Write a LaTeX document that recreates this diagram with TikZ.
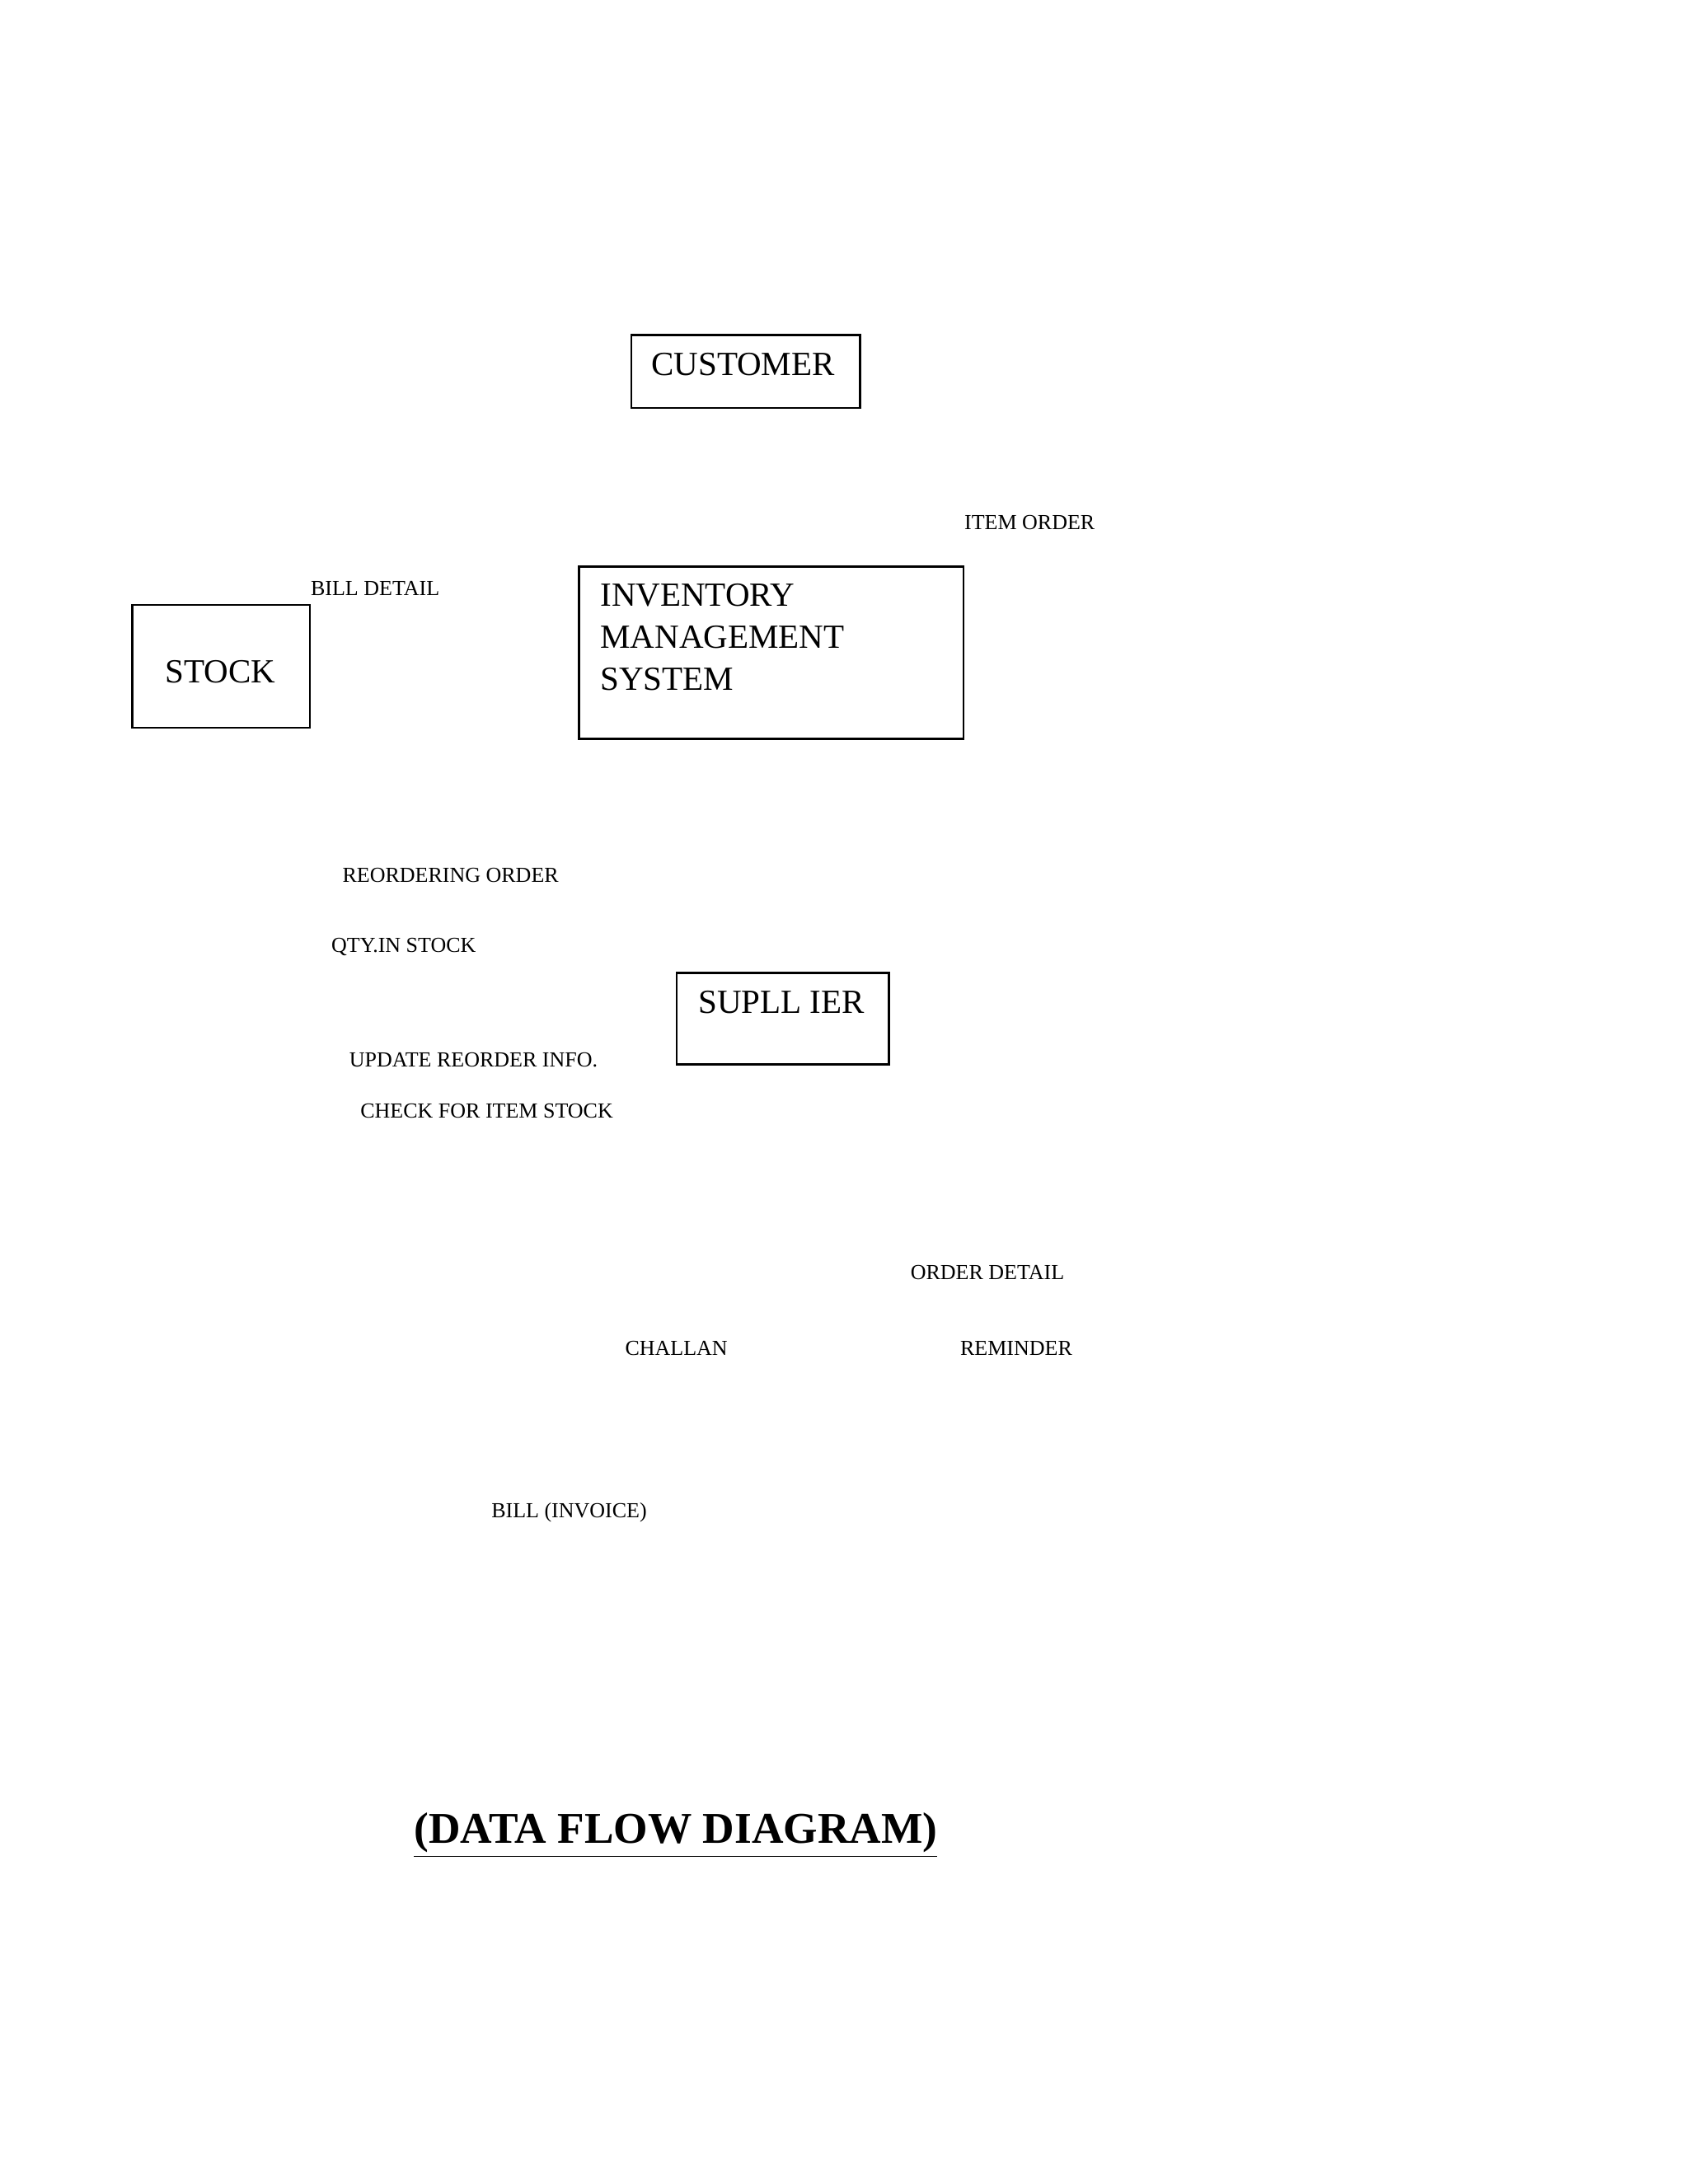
\documentclass[tikz,border=0pt]{standalone}
\usepackage{fontspec}
\setmainfont{Liberation Serif}
\usepackage{tikz}
\usetikzlibrary{positioning}
\tikzset{
    entity/.style={draw,thick,anchor=north west,inner sep=0pt},
    flow/.style={anchor=west,font=\fontsize{7.8}{9}\selectfont,inner sep=0pt},
    boxtext/.style={inner sep=0pt,font=\fontsize{12.3}{14}\selectfont},
}
\begin{document}
\begin{tikzpicture}[x=0.01764cm,y=-0.01764cm]
    \useasboundingbox (0,0) rectangle (1224,1584);
    % entities
    \node[entity,minimum width=166*0.01764cm,minimum height=53*0.01764cm] (customer) at (457,242) {};
    \node[boxtext,anchor=west] at (472,264) {CUSTOMER};
    \node[entity,minimum width=129*0.01764cm,minimum height=89*0.01764cm] (stock) at (95,438) {};
    \node[boxtext] at (160,487) {STOCK};
    \node[entity,minimum width=279*0.01764cm,minimum height=125*0.01764cm] (ims) at (419,410) {};
    \node[boxtext,anchor=north west,align=left,font=\fontsize{12.3}{15.3}\selectfont] at (435,423) {INVENTORY\\MANAGEMENT\\SYSTEM};
    \node[entity,minimum width=154*0.01764cm,minimum height=66*0.01764cm] (supplier) at (490,705) {};
    \node[boxtext,anchor=west] at (506,727) {SUPLL IER};
    % flow labels
    \node[flow] (itemorder) at (699,379) {ITEM ORDER};
    \node[flow] (billdetail) at (225,427) {BILL DETAIL};
    \node[flow] (reorder) at (248,635) {REORDERING ORDER};
    \node[flow] (qty) at (240,687) {QTY.IN STOCK};
    \node[flow] (update) at (253,769) {UPDATE REORDER INFO.};
    \node[flow] (check) at (261,806) {CHECK FOR ITEM STOCK};
    \node[flow] (orderdetail) at (660,923) {ORDER DETAIL};
    \node[flow] (challan) at (453,978) {CHALLAN};
    \node[flow] (reminder) at (696,978) {REMINDER};
    \node[flow] (bill) at (356,1097) {BILL (INVOICE)};
    % title
    \node[font=\fontsize{16}{19}\selectfont\bfseries,inner sep=0pt] (title) at (490,1331) {\underline{(DATA FLOW DIAGRAM)}};
\end{tikzpicture}
\end{document}
